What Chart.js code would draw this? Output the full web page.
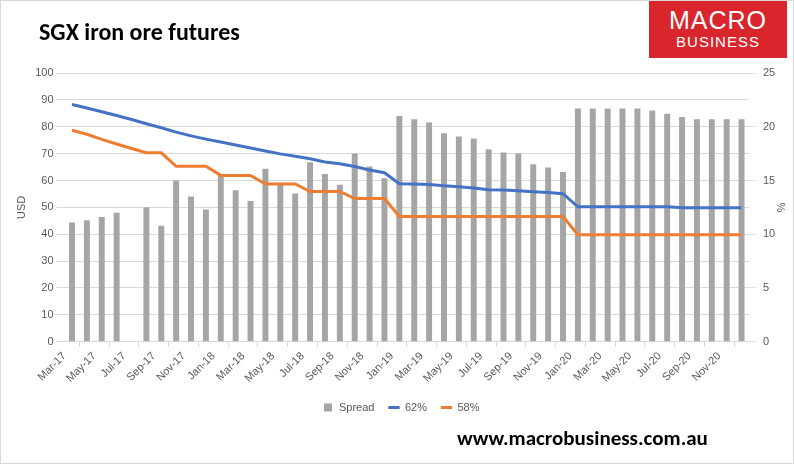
<!DOCTYPE html>
<html>
<head>
<meta charset="utf-8">
<script src="https://cdn.jsdelivr.net/npm/chart.js@4/dist/chart.umd.min.js"></script>
<style>
  body { margin:0; background:#fff; font-family:Calibri, "Liberation Sans", Arial, sans-serif; }
  #wrap { position:relative; width:794px; height:464px; border:1px solid #d9d9d9; box-sizing:border-box; overflow:hidden; }
  #title { position:absolute; left:38px; top:16px; font-size:24px; font-weight:bold; color:#000; }
  #logo { position:absolute; left:648px; top:0; width:138px; height:57px; background:#d9262c; color:#fff; text-align:center; font-family:"Liberation Sans", Arial, sans-serif; }
  #logo .a { font-size:25px; letter-spacing:1px; margin-top:6px; line-height:26px; }
  #logo .b { font-size:15px; letter-spacing:1px; line-height:18px; }
  #site { position:absolute; left:456px; top:424px; font-size:21px; font-weight:bold; color:#000; }
  canvas { position:absolute; left:0; top:0; }
</style>
</head>
<body>
<div id="wrap">
  <canvas id="c" width="792" height="462"></canvas>
  <div id="title">SGX iron ore futures</div>
  <div id="logo"><div class="a">MACRO</div><div class="b">BUSINESS</div></div>
  <div id="site">www.macrobusiness.com.au</div>
</div>
<script>
// monthly, Mar-17 .. Dec-20
const monthNames = ['Jan','Feb','Mar','Apr','May','Jun','Jul','Aug','Sep','Oct','Nov','Dec'];
const startMonth = 2, startYear = 17, nMonths = 46;

// spread, % (right axis)
const spread = [11.1,11.3,11.6,12.0,null,12.5,10.8,15.0,13.5,12.3,
  15.5,14.1,13.1,16.1,14.6,13.8,16.7,15.6,14.6,17.5,16.3,15.2,
  21.0,20.7,20.4,19.4,19.1,18.9,17.9,17.6,17.5,16.5,16.2,15.8,
  21.7,21.7,21.7,21.7,21.7,21.5,21.2,20.9,20.7,20.7,20.7,20.7];

// USD (left axis)
const fe62 = [88.3,87.0,85.6,84.2,82.7,81.1,79.6,78.0,76.6,75.4,
  74.3,73.2,72.1,71.0,69.9,69.0,68.1,66.9,66.2,65.2,63.9,62.9,
  58.8,58.7,58.5,58.0,57.7,57.2,56.6,56.5,56.2,55.8,55.5,55.1,
  50.2,50.2,50.2,50.2,50.2,50.2,50.2,49.9,49.9,49.9,49.9,49.9];
const fe58 = [78.7,77.2,75.3,73.6,71.9,70.3,70.3,65.3,65.3,65.3,
  61.9,61.9,61.9,58.7,58.7,58.7,55.9,55.9,55.9,53.3,53.3,53.3,
  46.6,46.6,46.6,46.6,46.6,46.6,46.6,46.6,46.6,46.6,46.6,46.6,
  39.8,39.8,39.8,39.8,39.8,39.8,39.8,39.8,39.8,39.8,39.8,39.8];

function monthLabel(i) {
  const m = (startMonth + i) % 12;
  const y = startYear + Math.floor((startMonth + i) / 12);
  return monthNames[m] + '-' + y;
}
const pts = arr => arr.map((v, i) => ({ x: i + 0.5, y: v }));

const grey = '#595959';
new Chart(document.getElementById('c'), {
  type: 'bar',
  data: {
    datasets: [
      { type:'bar', label:'Spread', data: pts(spread), yAxisID:'y1', backgroundColor:'#a5a5a5',
        barPercentage:0.4, categoryPercentage:1, pointStyle:'rect', order:3 },
      { type:'line', label:'62%', data: pts(fe62), yAxisID:'y', borderColor:'#4472c4', backgroundColor:'#4472c4',
        borderWidth:3, pointRadius:0, tension:0, pointStyle:'line', order:2 },
      { type:'line', label:'58%', data: pts(fe58), yAxisID:'y', borderColor:'#ed7d31', backgroundColor:'#ed7d31',
        borderWidth:3, pointRadius:0, tension:0, pointStyle:'line', order:1 }
    ]
  },
  options: {
    responsive:false, animation:false,
    layout: { padding: { top:72, left:10, right:2, bottom:40 } },
    plugins: {
      legend: { position:'bottom', labels: { usePointStyle:true, boxWidth:22, boxHeight:8, color:grey, font:{ size:11 }, padding:14,
        sort: (a, b) => a.datasetIndex - b.datasetIndex } },
      tooltip: { enabled:false }
    },
    scales: {
      x: {
        type:'linear', min:0, max:nMonths, offset:false,
        grid: { drawOnChartArea:false, color:'#d9d9d9', tickLength:5 },
        border: { color:'#d9d9d9' },
        ticks: { stepSize:2, autoSkip:false, maxRotation:45, minRotation:45, color:grey, font:{ size:11 },
          callback: v => (v < nMonths ? monthLabel(v) : '') }
      },
      y: {
        position:'left', min:0, max:100,
        ticks: { stepSize:10, color:grey, font:{ size:11 } },
        grid: { color:'#d9d9d9' }, border: { display:false },
        title: { display:true, text:'USD', color:grey, font:{ size:11 } }
      },
      y1: {
        position:'right', min:0, max:25,
        ticks: { stepSize:5, color:grey, font:{ size:11 }, padding:6 },
        grid: { drawOnChartArea:false }, border: { display:false },
        title: { display:true, text:'%', color:grey, font:{ size:11 } },
        afterFit: s => { s.width = 42; }
      }
    }
  }
});
</script>
</body>
</html>
